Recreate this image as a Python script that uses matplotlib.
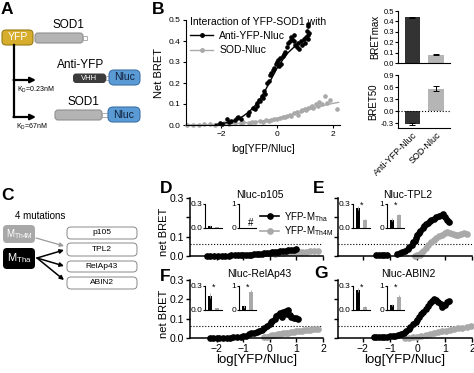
import numpy as np
import matplotlib
matplotlib.use("Agg")
import matplotlib.pyplot as plt
from matplotlib.patches import FancyBboxPatch, Rectangle
from matplotlib.lines import Line2D

plt.rcParams['font.family'] = ['Liberation Sans', 'DejaVu Sans']
plt.rcParams['mathtext.default'] = 'regular'

# ---- panel B data ----
b_anti_x = [-2.05, -1.95, -1.78, -1.7, -1.65, -1.5, -1.42, -1.38, -1.3, -1.05, -1.0, -0.85, -0.78, -0.72,
            -0.7, -0.66, -0.6, -0.55, -0.5, -0.47, -0.42, -0.35, -0.3, -0.25, -0.2, -0.15, -0.1, -0.05,
            0.0, 0.04, 0.08, 0.12, 0.15, 0.2, 0.25, 0.3, 0.35, 0.4, 0.45, 0.5, 0.55, 0.6, 0.62, 0.65,
            0.7, 0.75, 0.8, 0.85, 0.9, 0.95, 1.0, 1.05, 1.08, 1.1, 1.1, 1.12, 1.12, 1.15]
b_anti_y = [0.01, 0.005, 0.03, 0.015, 0.02, 0.025, 0.035, 0.04, 0.03, 0.05, 0.06, 0.08, 0.075, 0.09,
            0.105, 0.12, 0.115, 0.14, 0.13, 0.16, 0.15, 0.2, 0.21, 0.24, 0.25, 0.26, 0.27, 0.29,
            0.3, 0.31, 0.28, 0.32, 0.29, 0.33, 0.34, 0.35, 0.37, 0.39, 0.4, 0.42, 0.41, 0.43, 0.4, 0.38,
            0.37, 0.39, 0.36, 0.4, 0.38, 0.41, 0.39, 0.42, 0.45, 0.47, 0.43, 0.48, 0.41, 0.44]
b_sod_x = [-3.2, -3.0, -2.8, -2.6, -2.4, -2.2, -2.0, -1.9, -1.7, -1.5, -1.3, -1.2, -1.0, -0.9, -0.8,
           -0.6, -0.5, -0.4, -0.3, -0.2, -0.1, 0.0, 0.1, 0.2, 0.3, 0.35, 0.45, 0.5, 0.6, 0.7, 0.75,
           0.85, 0.9, 1.0, 1.05, 1.1, 1.2, 1.25, 1.3, 1.4, 1.45, 1.5, 1.6, 1.7, 1.8, 1.9, 2.15]
b_sod_y = [0, 0.002, 0, 0.003, 0.005, 0.002, 0.005, 0.01, 0.003, 0.01, 0.008, 0.012, 0.01, 0.015, 0.012,
           0.02, 0.015, 0.022, 0.02, 0.025, 0.028, 0.03, 0.035, 0.04, 0.038, 0.045, 0.05, 0.045, 0.055,
           0.06, 0.05, 0.065, 0.07, 0.075, 0.07, 0.08, 0.085, 0.09, 0.08, 0.1, 0.09, 0.11, 0.1, 0.14,
           0.105, 0.12, 0.075]
fit_anti_x = [-2.2, -2.0, -1.8, -1.6, -1.4, -1.2, -1.0, -0.8, -0.6, -0.4, -0.2, 0.0, 0.2, 0.4, 0.6, 0.8, 1.0, 1.1]
fit_anti_y = [0.003, 0.006, 0.011, 0.018, 0.028, 0.043, 0.063, 0.09, 0.125, 0.17, 0.22, 0.27, 0.31, 0.345,
              0.37, 0.39, 0.405, 0.41]
fit_sod_x = [-3.2, -2.5, -2.0, -1.5, -1.0, -0.5, 0.0, 0.5, 1.0, 1.5, 2.0, 2.2]
fit_sod_y = [0, 0.001, 0.003, 0.006, 0.012, 0.02, 0.032, 0.048, 0.068, 0.088, 0.103, 0.108]

bar_names = ['Anti-YFP-Nluc', 'SOD-Nluc']
bretmax_b = [0.44, 0.08]
bretmax_b_err = [0.005, 0.006]
bret50_b = [-0.32, 0.56]
bret50_b_err = [0.02, 0.06]

# ---- panels D-G data ----
titles = ['Nluc-p105', 'Nluc-TPL2', 'Nluc-RelAp43', 'Nluc-ABIN2']
tha_x = [
    [-2.35, -2.25, -2.1, -1.95, -1.8, -1.7, -1.55, -1.45, -1.3, -1.2, -1.1, -1.0, -0.9, -0.8, -0.7, -0.6,
     -0.5, -0.4, -0.3, -0.2, -0.1, 0.0, 0.1, 0.2, 0.3, 0.4, 0.5, 0.6, 0.7, 0.8, 0.9, 1.0],
    [-1.5, -1.4, -1.3, -1.2, -1.1, -0.75, -0.65, -0.55, -0.45, -0.35, -0.3, -0.2, -0.15, -0.1, -0.05, 0.0,
     0.05, 0.1, 0.2, 0.25, 0.3, 0.4, 0.45, 0.5, 0.6, 0.7, 0.8, 0.9, 0.95, 1.0, 1.1, 1.15],
    [-2.25, -2.15, -2.0, -1.9, -1.75, -1.6, -1.5, -1.4, -1.25, -1.1, -1.0, -0.9, -0.8, -0.7, -0.6, -0.5,
     -0.4, -0.3, -0.2, -0.1, 0.0, 0.05, 0.1, 0.2, 0.25, 0.3, 0.4, 0.45, 0.5, 0.6, 0.65, 0.7, 0.75, 0.8,
     0.9, 1.0, 1.05],
    [-1.6, -1.5, -1.4, -1.3, -1.2, -1.1, -1.0, -0.9, -0.8, -0.7, -0.6, -0.5, -0.4, -0.3, -0.25, -0.15,
     -0.05, 0.0, 0.05, 0.15, 0.2, 0.3, 0.4, 0.45, 0.55, 0.6, 0.7, 0.75, 0.85, 0.9, 1.0, 1.1, 1.15],
]
tha_y = [
    [0, 0, 0.001, 0, 0.001, 0.002, 0.002, 0.003, 0.003, 0.004, 0.004, 0.005, 0.006, 0.006, 0.007, 0.008,
     0.009, 0.01, 0.011, 0.013, 0.015, 0.017, 0.019, 0.02, 0.022, 0.025, 0.027, 0.028, 0.03, 0.032, 0.033, 0.034],
    [0.005, 0.005, 0.004, 0.003, 0.005, 0.012, 0.015, 0.02, 0.025, 0.035, 0.045, 0.055, 0.07, 0.08, 0.095,
     0.11, 0.12, 0.13, 0.145, 0.155, 0.165, 0.17, 0.18, 0.185, 0.19, 0.2, 0.205, 0.21, 0.215, 0.2, 0.185, 0.175],
    [0, 0, 0.001, 0, 0.002, 0.002, 0.001, 0.003, 0.003, 0.005, 0.008, 0.012, 0.02, 0.026, 0.025, 0.03,
     0.035, 0.04, 0.05, 0.06, 0.075, 0.085, 0.09, 0.1, 0.115, 0.12, 0.13, 0.11, 0.135, 0.14, 0.125, 0.145,
     0.12, 0.11, 0.105, 0.105, 0.1],
    [0.004, 0.005, 0.004, 0.005, 0.006, 0.006, 0.008, 0.01, 0.012, 0.015, 0.02, 0.026, 0.035, 0.045, 0.055,
     0.07, 0.085, 0.095, 0.11, 0.125, 0.135, 0.15, 0.165, 0.18, 0.19, 0.2, 0.195, 0.185, 0.175, 0.16, 0.17,
     0.185, 0.19],
]
th4m_x = [
    [0.2, 0.35, 0.5, 0.6, 0.7, 0.8, 0.9, 1.0, 1.1, 1.2, 1.35, 1.5, 1.65, 1.8],
    [-0.1, 0.0, 0.1, 0.15, 0.2, 0.3, 0.4, 0.5, 0.6, 0.7, 0.8, 0.9, 1.0, 1.1, 1.2, 1.3, 1.4, 1.5, 1.6, 1.7, 1.8],
    [-0.2, -0.1, 0.0, 0.1, 0.2, 0.3, 0.4, 0.5, 0.6, 0.7, 0.8, 0.9, 1.0, 1.1, 1.2, 1.3, 1.4, 1.5, 1.6, 1.7, 1.8],
    [-0.45, -0.3, -0.15, 0.0, 0.15, 0.3, 0.45, 0.6, 0.75, 0.9, 1.05, 1.2, 1.35, 1.5, 1.65, 1.8, 1.95],
]
th4m_y = [
    [0.012, 0.015, 0.018, 0.02, 0.02, 0.022, 0.022, 0.024, 0.022, 0.02, 0.022, 0.024, 0.025, 0.024],
    [0.0, 0.003, 0.006, 0.015, 0.025, 0.04, 0.055, 0.07, 0.085, 0.095, 0.105, 0.11, 0.118, 0.122, 0.12,
     0.115, 0.11, 0.108, 0.115, 0.118, 0.115],
    [0.003, 0.006, 0.01, 0.013, 0.016, 0.02, 0.022, 0.025, 0.026, 0.028, 0.03, 0.032, 0.034, 0.035, 0.038,
     0.04, 0.04, 0.043, 0.045, 0.045, 0.048],
    [0.0, 0.002, 0.004, 0.006, 0.012, 0.018, 0.022, 0.026, 0.03, 0.034, 0.038, 0.042, 0.046, 0.05, 0.053,
     0.056, 0.06],
]
inset_max = [[0.025, 0.01], [0.25, 0.1], [0.18, 0.02], [0.25, 0.04]]
inset_max_err = [[0.008, 0.004], [0.02, 0.01], [0.03, 0.005], [0.02, 0.005]]
inset_50 = [[0, 0], [0.35, 0.55], [0.15, 0.75], [0.22, 0.55]]
inset_50_err = [[0, 0], [0.05, 0.05], [0.05, 0.08], [0.05, 0.06]]
threshold = 0.06

W, H = 474, 373
fig = plt.figure(figsize=(W / 100, H / 100), dpi=100)


def pax(l, t, r, b):
    return fig.add_axes([l / W, 1 - b / H, (r - l) / W, (b - t) / H])


# overlay for the schematic drawings (pixel coordinates)
ov = fig.add_axes([0, 0, 1, 1])
ov.set_xlim(0, W)
ov.set_ylim(H, 0)
ov.axis('off')


def rbox(x0, y0, x1, y1, fc, ec='none', r=3, lw=0.8):
    ov.add_patch(FancyBboxPatch((x0, y0), x1 - x0, y1 - y0, boxstyle=f"round,pad=0,rounding_size={r}",
                                fc=fc, ec=ec, lw=lw))


for letter, (lx, ly) in zip('ABCDEFG', [(1, 2), (152, 2), (1, 188), (160, 181), (313, 181), (160, 269), (314, 266)]):
    ov.text(lx, ly, letter, fontsize=12.5, fontweight='bold', va='top', ha='left')

# panel A
rbox(2, 30, 33, 45, '#d6ad2c', '#9a7d18', r=4)
ov.text(17.5, 37.5, 'YFP', color='white', fontsize=7.5, ha='center', va='center')
rbox(35, 33, 83, 43, '#b4b4b4', '#909090', r=3)
ov.add_patch(Rectangle((83, 36), 4, 4, fc='white', ec='#a0a0a0', lw=0.6))
ov.text(68, 25, 'SOD1', fontsize=8.5, ha='center', va='center')
ov.plot([14, 14], [45, 117], color='k', lw=1.6)
for yy in (80, 117):
    ov.annotate('', xy=(36, yy), xytext=(13.5, yy),
                arrowprops=dict(arrowstyle='-|>', lw=1.6, color='k', mutation_scale=8, shrinkA=0, shrinkB=0))
ov.text(17, 89.5, 'K$_D$=0.23nM', fontsize=5, ha='left', va='center')
ov.text(16, 127, 'K$_D$=67nM', fontsize=5, ha='left', va='center')
ov.text(81, 65, 'Anti-YFP', fontsize=8.5, ha='center', va='center')
rbox(73, 73.5, 106, 83, '#3c3c3c', r=3)
ov.text(89.5, 78.5, 'VHH', color='white', fontsize=5.5, ha='center', va='center')
ov.add_patch(Rectangle((106, 76), 3, 4, fc='white', ec='#a0a0a0', lw=0.6))
rbox(109, 70, 140, 85, '#5b9bd5', '#3c70a8', r=5)
ov.text(124.5, 77.5, 'Nluc', color='#0f1f3a', fontsize=7.5, ha='center', va='center')
ov.text(83, 102, 'SOD1', fontsize=8.5, ha='center', va='center')
rbox(55, 110, 102, 120, '#b4b4b4', '#909090', r=3)
ov.add_patch(Rectangle((102, 113), 6, 4, fc='white', ec='#a0a0a0', lw=0.6))
rbox(108, 107, 140, 122, '#5b9bd5', '#3c70a8', r=5)
ov.text(124, 114.5, 'Nluc', color='#0f1f3a', fontsize=7.5, ha='center', va='center')

# panel C
ov.text(40, 216, '4 mutations', fontsize=7, ha='center', va='center')
rbox(3, 225, 35, 243, '#a8a8a8', r=4)
ov.text(19, 234, 'M$_{Th4M}$', color='white', fontsize=7, ha='center', va='center')
rbox(3, 248, 35, 269, 'black', r=4)
ov.text(19, 258.5, 'M$_{Tha}$', color='white', fontsize=8, ha='center', va='center')
for name, (y0, y1) in zip(['p105', 'TPL2', 'RelAp43', 'ABIN2'], [(227, 239), (243, 256), (261, 272), (277, 289)]):
    rbox(67, y0, 137, y1, 'white', '#888888', r=4, lw=0.7)
    ov.text(102, (y0 + y1) / 2, name, fontsize=6, ha='center', va='center')
ov.annotate('', xy=(64, 246), xytext=(36, 238),
            arrowprops=dict(arrowstyle='-|>', lw=0.9, color='#9a9a9a', mutation_scale=6, shrinkA=0, shrinkB=0))
for yy in (250, 266, 280):
    ov.annotate('', xy=(64, yy), xytext=(37, 258),
                arrowprops=dict(arrowstyle='-|>', lw=1.1, color='k', mutation_scale=6, shrinkA=0, shrinkB=0))

GRAY = '#a9a9a9'

# panel B main
axb = pax(186, 20, 340, 125)
axb.plot(fit_sod_x, fit_sod_y, color=GRAY, lw=1)
axb.plot(b_sod_x, b_sod_y, 'o', color=GRAY, ms=2.3, clip_on=False)
axb.plot(fit_anti_x, fit_anti_y, color='k', lw=1)
axb.plot(b_anti_x, b_anti_y, 'o', color='k', ms=2.3, clip_on=False)
axb.set_xlim(-3.25, 2.25)
axb.set_ylim(0, 0.5)
axb.set_xticks([-2, 0, 2])
axb.set_yticks([0, 0.1, 0.2, 0.3, 0.4, 0.5])
axb.set_yticklabels(['0.0', '0.1', '0.2', '0.3', '0.4', '0.5'])
axb.tick_params(labelsize=6, length=2.5, width=0.8, pad=1.5)
axb.set_xlabel('log[YFP/Nluc]', fontsize=7.5, labelpad=5)
axb.set_ylabel('Net BRET', fontsize=8, labelpad=3)
for s in ('top', 'right'):
    axb.spines[s].set_visible(False)
hb = [Line2D([], [], color='k', marker='o', ms=2.5, lw=1),
      Line2D([], [], color=GRAY, marker='o', ms=2.5, lw=1)]
legb = axb.legend(hb, bar_names, title='Interaction of YFP-SOD1 with', loc='upper left',
                  bbox_to_anchor=(0.0, 1.07), frameon=False, fontsize=7.5, title_fontsize=7.5,
                  handlelength=2.2, borderaxespad=0, labelspacing=0.4, handletextpad=0.6)
legb._legend_box.align = 'left'

# panel B bars
axm = pax(398, 11, 450, 63)
axm.bar([0, 1], bretmax_b, yerr=bretmax_b_err, width=0.65, color=['#333333', '#b5b5b5'],
        error_kw=dict(lw=0.7, capsize=2, capthick=0.7))
axm.set_xlim(-0.6, 1.6)
axm.set_ylim(0, 0.5)
axm.set_xticks([])
axm.set_yticks([0, 0.1, 0.2, 0.3, 0.4, 0.5])
axm.set_yticklabels(['0.0', '0.1', '0.2', '0.3', '0.4', '0.5'])
axm.set_ylabel('BRETmax', fontsize=7, labelpad=2)
axm.tick_params(labelsize=5.5, length=2, width=0.8, pad=1)
for s in ('top', 'right'):
    axm.spines[s].set_visible(False)

ax50 = pax(398, 75, 450, 128)
ax50.bar([0, 1], bret50_b, yerr=bret50_b_err, width=0.65, color=['#333333', '#b5b5b5'],
         error_kw=dict(lw=0.7, capsize=2, capthick=0.7))
ax50.axhline(0, color='k', ls=':', lw=0.8)
ax50.set_xlim(-0.6, 1.6)
ax50.set_ylim(-0.42, 0.9)
ax50.set_yticks([-0.3, 0, 0.3, 0.6, 0.9])
ax50.set_yticklabels(['-0.3', '0.0', '0.3', '0.6', '0.9'])
ax50.set_xticks([0, 1])
ax50.set_xticklabels(bar_names, rotation=45, ha='right', rotation_mode='anchor')
ax50.set_ylabel('BRET50', fontsize=7, labelpad=2)
ax50.tick_params(labelsize=5.5, length=2, width=0.8, pad=1)
ax50.tick_params(axis='x', length=0, labelsize=6.5, pad=2)
for s in ('top', 'right'):
    ax50.spines[s].set_visible(False)

# panels D-G
rects = [(190, 198, 323, 256), (338, 198, 472, 256), (190, 280, 323, 338), (338, 280, 472, 338)]
xlims = [(-3, 2), (-2.9, 2), (-3, 2), (-2.9, 2)]
for i, (l, t, r, b) in enumerate(rects):
    ax = pax(l, t, r, b)
    ax.axhline(threshold, color='k', ls=':', lw=0.8)
    ax.plot(th4m_x[i], th4m_y[i], 'o', color=GRAY, ms=3.8, clip_on=False)
    ax.plot(tha_x[i], tha_y[i], 'o', color='k', ms=3.8, clip_on=False)
    ax.set_xlim(*xlims[i])
    ax.set_ylim(0, 0.3)
    ax.set_xticks([-2, -1, 0, 1, 2])
    ax.set_yticks([0, 0.1, 0.2, 0.3])
    for s in ('top', 'right'):
        ax.spines[s].set_visible(False)
    ax.spines['left'].set_linewidth(1.1)
    ax.spines['bottom'].set_linewidth(1.1)
    ax.tick_params(labelsize=7.5, length=3, width=1, pad=1.5)
    if i in (0, 2):
        ax.set_yticklabels(['0.0', '0.1', '' if i == 0 else '0.2', '0.3'])
        ax.set_ylabel('net BRET', fontsize=8, labelpad=1)
        ax.yaxis.set_label_coords(-0.16, 0.42)
    else:
        ax.set_yticklabels([])
    if i in (2, 3):
        ax.set_xlabel('log[YFP/Nluc]', fontsize=9.5, labelpad=0)
    else:
        ax.set_xticklabels([])
    ov.text((l + r) / 2 + 3, t - 3 if i < 2 else t - 6, titles[i], fontsize=7.5, ha='center', va='center')

    # insets
    for j, (vals, errs, ytop, ylab, name) in enumerate([
            (inset_max[i], inset_max_err[i], 0.3, ['0.0', '0.3'], 'BRETmax'),
            (inset_50[i], inset_50_err[i], 1.0, ['0', '1'], 'BRET50')]):
        il = l + 15 + 34 * j
        it = t + 6
        ia = pax(il, it, il + 17, it + 24)
        if i == 0 and j == 1:
            ia.text(2, 0.2, '#', fontsize=7, ha='center', va='center')
        else:
            ia.bar([1, 2], vals, yerr=errs, width=0.6, color=['k', GRAY],
                   error_kw=dict(lw=0.6, capsize=0, ecolor=GRAY))
        if i > 0:
            ia.text(1.55, ytop * 0.93, '*', fontsize=6.5, ha='center', va='center')
        ia.set_xlim(0.3, 2.8)
        ia.set_ylim(0, ytop)
        ia.set_xticks([])
        ia.set_yticks([0, ytop])
        ia.set_yticklabels(ylab)
        ia.tick_params(labelsize=6, length=1.5, width=0.8, pad=0.5)
        ia.patch.set_alpha(0)
        for s in ('top', 'right'):
            ia.spines[s].set_visible(False)
        ov.text(il + 4 + j, it + 34, name, fontsize=6.5, ha='center', va='center')

hd = [Line2D([], [], color='k', marker='o', ms=3.8, lw=1.2),
      Line2D([], [], color=GRAY, marker='o', ms=3.8, lw=1.2)]
fig.legend(hd, ['YFP-M$_{Tha}$', 'YFP-M$_{Th4M}$'], loc='upper left', bbox_to_anchor=(256 / W, 1 - 206 / H),
           frameon=False, fontsize=7, handlelength=2.0, labelspacing=0.1, handletextpad=0.5, borderaxespad=0)

fig.savefig('out.png', dpi=100)
